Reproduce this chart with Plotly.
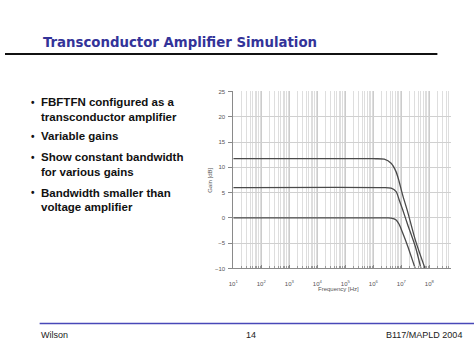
import plotly.graph_objects as go

W, H = 474, 355

# ---- data ----
freq_top = [10, 1.0e6, 2.45e6, 4.3e6, 6.5e6, 8.3e6, 1.1e7, 1.66e7, 3.2e7, 7.2e7]
gain_top = [11.7, 11.7, 11.6, 10.8, 9.1, 7.2, 4.6, 1.3, -4.5, -10.2]

freq_mid = [10, 2.0e6, 4.3e6, 6.5e6, 8.3e6, 1.1e7, 1.66e7, 3.2e7, 5.1e7]
gain_mid = [6.0, 6.0, 5.9, 5.2, 3.6, 1.7, -1.25, -5.8, -10.2]

freq_bot = [10, 3.0e6, 4.3e6, 6.5e6, 8.3e6, 1.1e7, 1.66e7, 2.5e7, 3.2e7]
gain_bot = [0.0, 0.0, -0.05, -0.4, -1.25, -2.9, -5.5, -8.4, -10.2]

x_decades = [1, 2, 3, 4, 5, 6, 7, 8]
x_ticktext = ["10<sup>%d</sup>" % d for d in x_decades]
y_ticks = [-10, -5, 0, 5, 10, 15, 20, 25]

title_text = "Transconductor Amplifier Simulation"
bullets = [
    ["FBFTFN configured as a", "transconductor amplifier"],
    ["Variable gains"],
    ["Show constant bandwidth", "for various gains"],
    ["Bandwidth smaller than", "voltage amplifier"],
]
footer_left, footer_mid, footer_right = "Wilson", "14", "B117/MAPLD 2004"

# ---- helpers ----
def px(x):
    return x / W

def py(y):
    return 1 - y / H

fig = go.Figure()
for f, g in [(freq_top, gain_top), (freq_mid, gain_mid), (freq_bot, gain_bot)]:
    fig.add_trace(go.Scatter(x=f, y=g, mode="lines",
                             line=dict(color="#4a4a4a", width=1.3, shape="spline", smoothing=0.8),
                             showlegend=False, hoverinfo="skip"))

minor_vals = [m * 10 ** d for d in range(1, 9) for m in range(2, 10)]

axfont = dict(family="Liberation Sans, Arial, sans-serif", size=6, color="#555555")
fig.update_layout(
    width=W, height=H, margin=dict(l=0, r=0, t=0, b=0),
    paper_bgcolor="white", plot_bgcolor="white",
    xaxis=dict(type="log", range=[1, 8.78], domain=[px(230.7), px(451)],
               tickvals=[10 ** d for d in x_decades], ticktext=x_ticktext,
               ticks="inside", ticklen=3, tickcolor="#888888",
               showgrid=True, gridcolor="#cccccc", gridwidth=1,
               showline=True, linecolor="#8a8a8a", linewidth=1,
               zeroline=False, tickfont=axfont, ticklabelstandoff=9,
               minor=dict(tickvals=minor_vals, ticks="inside", ticklen=2,
                          tickcolor="#999999", showgrid=True,
                          gridcolor="#dedede", gridwidth=1)),
    yaxis=dict(range=[-10, 25], domain=[py(270), py(90)],
               tickvals=y_ticks, ticks="outside", ticklen=4, tickcolor="#888888",
               showgrid=True, gridcolor="#d0d0d0", gridwidth=1,
               showline=True, linecolor="#8a8a8a", linewidth=1,
               zeroline=False, tickfont=axfont, ticklabelstandoff=2),
)

ann = []
# title
ann.append(dict(x=px(36), y=py(39), xref="paper", yref="paper", xanchor="left", yanchor="middle",
                text="<b>%s</b>" % title_text, showarrow=False,
                font=dict(family="DejaVu Sans Condensed, Liberation Sans Narrow, Arial Narrow, sans-serif",
                          size=14.8, color="#333399")))
# bullets
line_y = [[101, 116], [135.5], [157, 171.5], [193, 207.5]]
for items, ys in zip(bullets, line_y):
    ann.append(dict(x=px(24), y=py(ys[0]), xref="paper", yref="paper", xanchor="left",
                    yanchor="middle", text="<b>•</b>", showarrow=False,
                    font=dict(family="Liberation Sans, Arial, sans-serif", size=10, color="#111111")))
    for t, yy in zip(items, ys):
        ann.append(dict(x=px(34), y=py(yy), xref="paper", yref="paper", xanchor="left",
                        yanchor="middle", text="<b>%s</b>" % t, showarrow=False,
                        font=dict(family="Liberation Sans, Arial, sans-serif", size=11.5,
                                  color="#111111")))
# axis titles
ann.append(dict(x=px(207), y=py(180), xref="paper", yref="paper", xanchor="center", yanchor="middle",
                text="Gain [dB]", textangle=-90, showarrow=False, font=axfont))
ann.append(dict(x=px(337), y=py(291), xref="paper", yref="paper", xanchor="center", yanchor="middle",
                text="Frequency [Hz]", showarrow=False, font=axfont))
# footer
ffont = dict(family="Liberation Sans, Arial, sans-serif", size=9, color="#222222")
ann.append(dict(x=px(34), y=py(338), xref="paper", yref="paper", xanchor="left", yanchor="middle",
                text=footer_left, showarrow=False, font=ffont))
ann.append(dict(x=px(249), y=py(338), xref="paper", yref="paper", xanchor="center", yanchor="middle",
                text=footer_mid, showarrow=False, font=ffont))
ann.append(dict(x=px(464), y=py(338), xref="paper", yref="paper", xanchor="right", yanchor="middle",
                text=footer_right, showarrow=False, font=ffont))
fig.update_layout(annotations=ann)

fig.update_layout(shapes=[
    dict(type="line", xref="paper", yref="paper", x0=0, x1=px(437), y0=py(52), y1=py(52),
         line=dict(color="#111111", width=2)),
    dict(type="line", xref="paper", yref="paper", x0=px(35), x1=1, y0=py(326), y1=py(326),
         line=dict(color="#4848b8", width=1.5)),
])

fig.write_html("out.html")
